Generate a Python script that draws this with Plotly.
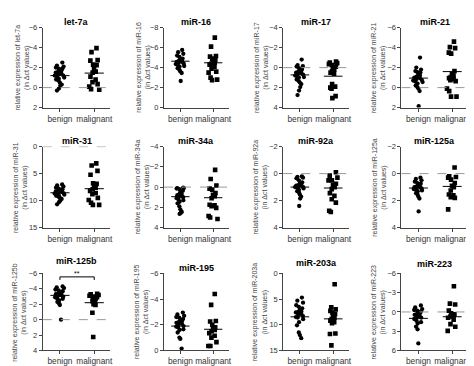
import plotly.graph_objects as go

categories = ["benign", "malignant"]
names = ["let-7a", "miR-16", "miR-17", "miR-21", "miR-31", "miR-34a",
         "miR-92a", "miR-125a", "miR-125b", "miR-195", "miR-203a", "miR-223"]

# ---- data (relative expression, in delta-ct values) ----
benign_let7a = [-2.5, -2.2, -2.1, -2.0, -1.9, -1.9, -1.8, -1.7, -1.6, -1.5, -1.4, -1.3,
                -1.2, -1.2, -1.1, -1.0, -0.9, -0.8, -0.7, -0.5, -0.3, -0.2, 0.1, 0.3]
malig_let7a = [-3.95, -3.55, -2.75, -2.7, -2.3, -2.25, -1.85, -1.6, -1.5, -1.1, -0.8,
               -0.55, -0.35, -0.1, 0.15, 0.2]
benign_mir16 = [-5.76, -5.54, -5.38, -5.2, -5.06, -4.9, -4.8, -4.74, -4.67, -4.58, -4.58,
                -4.48, -4.42, -4.35, -4.26, -4.16, -4.1, -3.94, -3.78, -3.62, -3.46, -2.66]
malig_mir16 = [-7.0, -6.1, -5.15, -5.1, -4.9, -4.75, -4.6, -4.5, -4.4, -4.3, -4.1, -3.9,
               -3.6, -3.5, -3.0, -2.8, -2.75]
benign_mir17 = [-0.8, -0.25, -0.15, -0.1, 0.05, 0.15, 0.25, 0.3, 0.4, 0.5, 0.55, 0.6, 0.7,
                0.8, 0.9, 0.95, 1.0, 1.2, 1.35, 1.5, 1.65, 1.95, 2.3, 2.75]
malig_mir17 = [-0.6, -0.5, -0.45, -0.35, -0.25, -0.1, 0.05, 0.2, 0.35, 0.5, 0.6, 1.65, 1.9,
               2.0, 2.1, 2.85, 3.05]
benign_mir21 = [-3.0, -2.0, -1.8, -1.65, -1.55, -1.5, -1.35, -1.2, -1.1, -1.0, -0.95, -0.85,
                -0.75, -0.7, -0.6, -0.55, -0.4, -0.2, -0.05, 0.1, 0.35, 1.85]
malig_mir21 = [-4.6, -4.05, -3.95, -3.5, -3.4, -1.65, -1.35, -1.2, -1.05, -0.95, -0.85,
               -0.75, -0.65, 0.1, 0.35, 0.9, 0.9]
benign_mir31 = [7.0, 7.2, 7.4, 7.6, 7.8, 7.9, 8.0, 8.1, 8.2, 8.3, 8.4, 8.5, 8.6, 8.7, 8.8,
                8.9, 9.0, 9.1, 9.3, 9.5, 9.7, 10.0, 10.3, 10.7]
malig_mir31 = [3.1, 3.5, 4.5, 5.2, 6.8, 6.9, 7.2, 7.6, 7.9, 8.2, 8.6, 8.8, 9.5, 9.9, 10.4,
               10.8, 10.8]
benign_mir34a = [0.05, 0.1, 0.1, 0.15, 0.2, 0.35, 0.5, 0.65, 0.75, 0.8, 0.85, 0.95, 1.0,
                 1.1, 1.2, 1.3, 1.45, 1.6, 1.9, 2.2, 2.45, 2.55, 2.65]
malig_mir34a = [-1.7, -0.8, -0.15, 0.15, 0.25, 0.6, 0.75, 0.9, 1.1, 1.75, 1.8, 1.9, 2.05,
                2.85, 3.0, 3.15]
benign_mir92a = [0.2, 0.25, 0.3, 0.35, 0.5, 0.65, 0.75, 0.8, 0.85, 0.9, 0.9, 0.95, 1.0, 1.0,
                 1.05, 1.1, 1.2, 1.3, 1.4, 1.55, 1.7, 1.85, 2.4]
malig_mir92a = [-0.1, 0.15, 0.3, 0.5, 0.5, 0.75, 0.85, 1.0, 1.15, 1.45, 1.65, 1.9, 2.15,
                2.75, 2.85]
benign_mir125a = [0.3, 0.4, 0.5, 0.6, 0.7, 0.75, 0.85, 0.9, 0.95, 1.0, 1.0, 1.05, 1.1, 1.15,
                  1.2, 1.25, 1.3, 1.45, 1.55, 1.7, 1.85, 2.8]
malig_mir125a = [-0.45, 0.2, 0.25, 0.3, 0.45, 0.7, 0.9, 1.0, 1.25, 1.55, 1.6, 1.75, 1.8, 2.65]
benign_mir125b = [-4.3, -4.2, -4.1, -3.9, -3.8, -3.7, -3.55, -3.5, -3.4, -3.3, -3.15, -3.1,
                  -3.0, -2.9, -2.75, -2.7, -2.5, -2.3, -2.1, -1.9, 0.0]
malig_mir125b = [-3.35, -3.3, -3.2, -3.1, -3.0, -2.9, -2.8, -2.7, -2.6, -2.4, -2.3, -2.0,
                 -1.9, -0.9, 2.25]
benign_mir195 = [-2.95, -2.8, -2.7, -2.6, -2.55, -2.45, -2.35, -2.3, -2.2, -2.15, -2.1, -2.0,
                 -1.9, -1.85, -1.8, -1.65, -1.6, -1.4, -1.0, -0.9, -0.15]
malig_mir195 = [-4.4, -3.55, -2.3, -2.25, -2.0, -1.8, -1.65, -1.6, -1.5, -1.35, -1.15, -1.0,
                -0.65, -0.35, -0.35]
benign_mir203a = [4.7, 5.3, 5.7, 6.2, 6.5, 6.8, 7.1, 7.4, 7.5, 7.6, 7.9, 8.0, 8.3, 8.5, 8.6,
                  8.9, 9.5, 10.1, 11.5, 12.0, 12.6]
malig_mir203a = [2.1, 6.6, 7.0, 7.3, 7.6, 7.9, 8.2, 8.6, 8.9, 9.2, 9.5, 9.7, 11.7, 11.8, 14.0]
benign_mir223 = [-1.0, -0.7, -0.45, -0.3, -0.2, -0.1, 0.0, 0.2, 0.35, 0.45, 0.7, 0.8, 0.9,
                 1.1, 1.4, 1.6, 1.8, 2.3, 2.7, 4.9]
malig_mir223 = [-4.0, -1.3, -1.15, -0.2, 0.2, 0.35, 0.45, 0.55, 0.7, 0.9, 1.2, 1.9, 2.3, 2.95]

benign_data = [benign_let7a, benign_mir16, benign_mir17, benign_mir21, benign_mir31,
               benign_mir34a, benign_mir92a, benign_mir125a, benign_mir125b, benign_mir195,
               benign_mir203a, benign_mir223]
malig_data = [malig_let7a, malig_mir16, malig_mir17, malig_mir21, malig_mir31, malig_mir34a,
              malig_mir92a, malig_mir125a, malig_mir125b, malig_mir195, malig_mir203a,
              malig_mir223]

# means
benign_means = [-1.2, -4.64, 0.73, -0.95, 8.55, 0.95, 1.0, 1.07, -3.15, -1.9, 8.45, 1.0]
malig_means = [-1.45, -4.48, 0.86, -1.6, 7.8, 1.05, 1.07, 0.95, -2.2, -1.65, 8.85, 0.75]

# axis ranges (top value, bottom value) and ticks
y_top = [-6, -8, -4, -6, 0, -4, -2, -2, -6, -6, 0, -6]
y_bottom = [2, 0, 4, 2, 15, 4, 4, 4, 4, 0, 15, 6]
y_ticks = [[-6, -4, -2, 0, 2], [-8, -6, -4, -2, 0], [-4, -2, 0, 2, 4], [-6, -4, -2, 0, 2],
           [0, 5, 10, 15], [-4, -2, 0, 2, 4], [-2, 0, 2, 4], [-2, 0, 2, 4],
           [-6, -4, -2, 0, 2, 4], [-6, -4, -2, 0], [0, 5, 10, 15], [-6, -3, 0, 3, 6]]
show_zero_line = [True, False, True, True, True, True, True, True, True, False, False, True]

# significance bracket (miR-125b)
sig_level = -5.55
sig_tip = -5.15
sig_label = "**"
sig_label_y = -5.95

# ---- layout geometry (pixels) ----
W, H = 474, 366
col_px = [(35, 103), (157, 222), (277, 343), (396, 463)]
row_px = [[(16, 98)] * 4, [(138, 221)] * 4, [(268, 347), (268, 347), (268, 347), (268, 347)]]
title_py = [[10] * 4, [132] * 4, [255, 262, 257, 258]]
ytitle_px = [[15, 136, 255, 373], [12, 135, 254, 373], [12, 135, 254, 373]]

def fx(p):
    return p / W

def fy(p):
    return 1 - p / H

FONT = "Liberation Sans, Arial, sans-serif"
TXT = "#333333"
AX = "#444444"

fig = go.Figure()
layout = dict(width=W, height=H, margin=dict(l=0, r=0, t=0, b=0),
              paper_bgcolor="white", plot_bgcolor="white", showlegend=False,
              font=dict(family=FONT, size=8, color=TXT))
shapes = []
annotations = []
half_w = 0.28

for i, name in enumerate(names):
    r, c = divmod(i, 4)
    k = i + 1
    xa = "x" if k == 1 else f"x{k}"
    ya = "y" if k == 1 else f"y{k}"
    x0p, x1p = col_px[c]
    y0p, y1p = row_px[r][c]
    layout["xaxis" if k == 1 else f"xaxis{k}"] = dict(
        domain=[fx(x0p), fx(x1p)], anchor=ya, range=[-0.5, 1.47],
        tickvals=[0, 1], ticktext=categories, ticks="outside", ticklen=3, tickangle=0,
        tickcolor=AX, showline=True, linecolor=AX, linewidth=1, showgrid=False,
        zeroline=False, tickfont=dict(size=8.3, color=TXT), fixedrange=True)
    layout["yaxis" if k == 1 else f"yaxis{k}"] = dict(
        domain=[fy(y1p), fy(y0p)], anchor=xa, range=[y_bottom[i], y_top[i]],
        tickvals=y_ticks[i], ticks="outside", ticklen=3, tickcolor=AX,
        showline=True, linecolor=AX, linewidth=1, showgrid=False, zeroline=False,
        tickfont=dict(size=7.5, color=TXT), fixedrange=True)

    for j, (vals, sym) in enumerate([(benign_data[i], "circle"), (malig_data[i], "square")]):
        fig.add_trace(go.Box(
            x=[j] * len(vals), y=vals, xaxis=xa, yaxis=ya, orientation="v",
            boxpoints="all", jitter=0.55, pointpos=0, width=0.6,
            fillcolor="rgba(0,0,0,0)", line=dict(color="rgba(0,0,0,0)", width=0),
            marker=dict(symbol=sym, size=4.3 if sym == "circle" else 4.6, color="black"),
            name=categories[j]))

    for j, m in enumerate([benign_means[i], malig_means[i]]):
        shapes.append(dict(type="line", xref=xa, yref=ya, x0=j - half_w, x1=j + half_w,
                           y0=m, y1=m, line=dict(color="black", width=1)))

    if show_zero_line[i]:
        shapes.append(dict(type="line", xref=f"{xa} domain", yref=ya, x0=0, x1=1,
                           y0=0, y1=0, line=dict(color="#999999", width=1, dash="dash")))

    annotations.append(dict(text=f"<b>{name}</b>", xref="paper", yref="paper",
                            x=fx((x0p + x1p) / 2), y=fy(title_py[r][c]), showarrow=False,
                            xanchor="center", yanchor="middle",
                            font=dict(size=9, color="black", family=FONT)))
    annotations.append(dict(text=f"relative expression of {name}<br>(in \u0394ct values)",
                            xref="paper", yref="paper", x=fx(ytitle_px[r][c]),
                            y=fy((y0p + y1p) / 2), textangle=-90, showarrow=False,
                            xanchor="center", yanchor="middle",
                            font=dict(size=7, color="#444444", family=FONT)))

# significance bracket on miR-125b (panel 9)
fig.add_trace(go.Scatter(x=[0, 0, 1, 1], y=[sig_tip, sig_level, sig_level, sig_tip],
                         xaxis="x9", yaxis="y9", mode="lines",
                         line=dict(color="black", width=1), hoverinfo="skip"))
annotations.append(dict(text=sig_label, xref="x9", yref="y9", x=0.5, y=sig_label_y,
                        showarrow=False, font=dict(size=7, color="black")))

layout["shapes"] = shapes
layout["annotations"] = annotations
fig.update_layout(**layout)
fig.write_html("out.html")
